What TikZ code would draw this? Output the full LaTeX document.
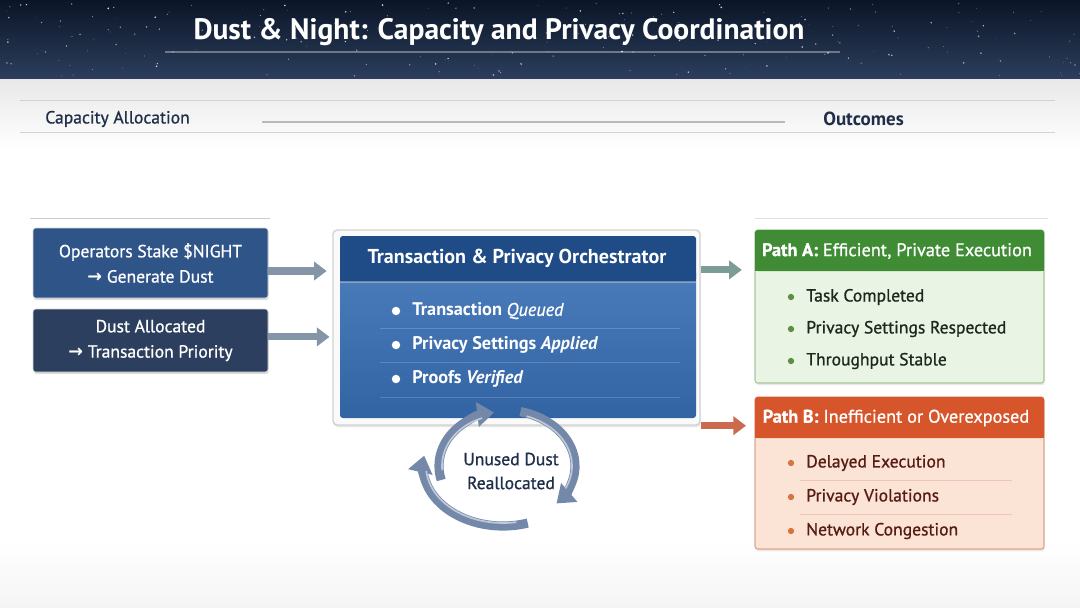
\documentclass[tikz,border=0pt]{standalone}
\usepackage{fontspec}
\setmainfont{PT Sans}
\newfontfamily\medf{PT Sans}[FakeBold=0.9]
\newfontfamily\symf{DejaVu Sans}
\usetikzlibrary{arrows.meta,calc,shadows}
\definecolor{navyTop}{HTML}{0B1527}
\definecolor{navyBot}{HTML}{2B3E5C}
\definecolor{boxA}{HTML}{2F5488}
\definecolor{boxB}{HTML}{2C3F5E}
\definecolor{orchHead}{HTML}{1F4B86}
\definecolor{orchTop}{HTML}{4A7BBA}
\definecolor{orchBot}{HTML}{3263A3}
\definecolor{greenHead}{HTML}{3F8C35}
\definecolor{greenBody}{HTML}{EAF4E4}
\definecolor{greenLine}{HTML}{A9C79D}
\definecolor{greenDot}{HTML}{5E8C45}
\definecolor{greenText}{HTML}{1C271D}
\definecolor{orangeHead}{HTML}{D6552A}
\definecolor{orangeBody}{HTML}{FBE3D5}
\definecolor{orangeLine}{HTML}{DDA68C}
\definecolor{orangeDot}{HTML}{D8733E}
\definecolor{orangeText}{HTML}{561B12}
\definecolor{labelText}{HTML}{1F2F4A}
\definecolor{flowGray}{HTML}{8595A8}
\definecolor{flowGreen}{HTML}{7E9C96}
\definecolor{flowOrange}{HTML}{CB6A4C}
\definecolor{cycleC}{HTML}{7489AA}
\newcommand{\rarr}{{\symf\bfseries →}}
\tikzset{
  leftbox/.style={rounded corners=2pt, draw=white!70!gray, line width=0.4pt, text=white,
    minimum width={235*0.025cm}, align=center, font=\medf\fontsize{12.5}{18}\selectfont,
    drop shadow={shadow xshift=0.5pt, shadow yshift=-1.5pt, opacity=0.25}},
  flow/.style={line width=5pt, -{Triangle[width=13pt,length=9pt]}},
  bulletdot/.style={circle, inner sep=0pt, minimum size=6pt},
  orchitem/.style={anchor=west, text=white, font=\bfseries\fontsize{13}{15}\selectfont, inner sep=0pt},
  pathitem/.style={anchor=west, font=\medf\fontsize{12.5}{15}\selectfont, inner sep=0pt},
  pathtitle/.style={text=white, font=\medf\fontsize{13}{15}\selectfont, inner sep=0pt},
  seclabel/.style={text=labelText, font=\medf\fontsize{12.5}{14}\selectfont, inner sep=0pt},
  cyc/.style={line width=6.5pt, draw=cycleC, -{Triangle[width=17pt,length=12pt]}},
  cychl/.style={line width=1.2pt, draw=white, opacity=0.55},
}
\begin{document}
\begin{tikzpicture}[x=0.025cm,y=-0.025cm]
\useasboundingbox (0,0) rectangle (1080,607);
% background
\fill[white] (0,0) rectangle (1080,607);
\shade[top color=gray!18, bottom color=white] (0,78) rectangle (1080,150);
\shade[top color=white, bottom color=gray!8] (0,540) rectangle (1080,607);
% header band
\shade[top color=navyTop, bottom color=navyBot] (0,0) rectangle (1080,78);
\pgfmathsetseed{42}
\foreach \i in {1,...,230}{
  \pgfmathsetmacro{\sx}{rnd*1080}
  \pgfmathsetmacro{\sy}{2+rnd*74}
  \pgfmathsetmacro{\sr}{0.15+rnd*0.55}
  \pgfmathsetmacro{\so}{0.25+rnd*0.7}
  \fill[white,opacity=\so] (\sx,\sy) circle (\sr pt);
}
\node[text=white, font=\bfseries\fontsize{21}{24}\selectfont, inner sep=0pt] (title) at (499,32)
  {Dust \& Night: Capacity and Privacy Coordination};
\draw[white, opacity=0.35, line width=0.8pt] (165,52) -- (840,52);
% section rules
\draw[gray!35, line width=0.7pt] (20,100) -- (1055,100);
\draw[gray!35, line width=0.7pt] (20,132) -- (1055,132);
\draw[gray!55, line width=1.2pt] (262,122) -- (785,122);
\node[seclabel, anchor=west] (capalloc) at (45,119) {Capacity Allocation};
\node[seclabel, anchor=west, font=\bfseries\fontsize{13.5}{14}\selectfont] (outcomes) at (823,119) {Outcomes};
\draw[gray!40, line width=0.6pt] (30,218) -- (270,218);
\draw[gray!25, line width=0.6pt] (755,218) -- (1048,218);
% left boxes
\node[leftbox, fill=boxA, minimum height={70*0.025cm}] (stake) at (150.5,263)
  {Operators Stake \$NIGHT\\\rarr\ Generate Dust};
\node[leftbox, fill=boxB, minimum height={63*0.025cm}] (alloc) at (150.5,340.5)
  {Dust Allocated\\\rarr\ Transaction Priority};
% orchestrator
\node[draw=gray!35, fill=gray!4, rounded corners=3pt, line width=1pt,
      minimum width={367*0.025cm}, minimum height={195*0.025cm},
      drop shadow={shadow xshift=0.5pt, shadow yshift=-1.5pt, opacity=0.2}] (orch) at (516.5,327.5) {};
\shade[top color=orchTop, bottom color=orchBot, rounded corners=2pt] (340,270) rectangle (696,418);
\fill[orchHead, rounded corners=2pt] (340,236) rectangle (696,282);
\fill[orchHead] (340,272) rectangle (696,282);
\draw[white, opacity=0.35, line width=0.8pt] (340,282) -- (696,282);
\node[text=white, font=\bfseries\fontsize{14.3}{16}\selectfont, inner sep=0pt] (orchtitle) at (517,258)
  {Transaction \& Privacy Orchestrator};
\foreach \yy in {328,362,397}{\draw[white, opacity=0.18, line width=0.6pt] (380,\yy) -- (680,\yy);}
\node[bulletdot, fill=white] (od1) at (396,311) {};
\node[bulletdot, fill=white] (od2) at (396,345) {};
\node[bulletdot, fill=white] (od3) at (396,379) {};
\node[orchitem] (oi1) at (412,311) {Transaction {\medf\mdseries\itshape Queued}};
\node[orchitem] (oi2) at (412,345) {Privacy Settings \itshape Applied};
\node[orchitem] (oi3) at (412,379) {Proofs \itshape Verified};
% path A
\node[draw=greenLine, fill=greenBody, rounded corners=2pt, line width=0.8pt,
      minimum width={289*0.025cm}, minimum height={153*0.025cm},
      drop shadow={shadow xshift=0.5pt, shadow yshift=-1.5pt, opacity=0.18}] (pathA) at (899.5,306.5) {};
\fill[greenHead, rounded corners=2pt] (755,230) rectangle (1044,271);
\fill[greenHead] (755,262) rectangle (1044,271);
\node[pathtitle] (pathAtitle) at (897,251) {\textbf{Path A:} Efficient, Private Execution};
\node[bulletdot, fill=greenDot, minimum size=4.5pt] (ad1) at (791,297) {};
\node[bulletdot, fill=greenDot, minimum size=4.5pt] (ad2) at (791,329) {};
\node[bulletdot, fill=greenDot, minimum size=4.5pt] (ad3) at (791,361) {};
\node[pathitem, text=greenText] (ai1) at (806,297) {Task Completed};
\node[pathitem, text=greenText] (ai2) at (806,329) {Privacy Settings Respected};
\node[pathitem, text=greenText] (ai3) at (806,361) {Throughput Stable};
% path B
\node[draw=orangeLine, fill=orangeBody, rounded corners=2pt, line width=0.8pt,
      minimum width={289*0.025cm}, minimum height={152*0.025cm},
      drop shadow={shadow xshift=0.5pt, shadow yshift=-1.5pt, opacity=0.18}] (pathB) at (899.5,473) {};
\fill[orangeHead, rounded corners=2pt] (755,397) rectangle (1044,438);
\fill[orangeHead] (755,429) rectangle (1044,438);
\node[pathtitle] (pathBtitle) at (896,418) {\textbf{Path B:} Inefficient or Overexposed};
\foreach \yy in {480,514}{\draw[orangeLine, opacity=0.45, line width=0.6pt] (800,\yy) -- (1012,\yy);}
\node[bulletdot, fill=orangeDot, minimum size=4.5pt] (bd1) at (791,463) {};
\node[bulletdot, fill=orangeDot, minimum size=4.5pt] (bd2) at (791,497) {};
\node[bulletdot, fill=orangeDot, minimum size=4.5pt] (bd3) at (791,531) {};
\node[pathitem, text=orangeText] (bi1) at (806,463) {Delayed Execution};
\node[pathitem, text=orangeText] (bi2) at (806,497) {Privacy Violations};
\node[pathitem, text=orangeText] (bi3) at (806,531) {Network Congestion};
% connectors
\draw[flow, draw=flowGray, shorten >=4pt] ([yshift=-0.2cm]stake.east) -- ([yshift=-0.2cm]stake.east -| orch.west);
\draw[flow, draw=flowGray, shorten >=2pt] ([yshift=0.09cm]alloc.east) -- ([yshift=0.09cm]alloc.east -| orch.west);
\draw[flow, draw=flowGreen, shorten >=9pt] ([yshift=1.44cm]orch.east) -- ([yshift=1.44cm]orch.east -| pathA.west);
\draw[flow, draw=flowOrange, shorten >=6pt] (orch.south east) -- (orch.south east -| pathB.west);
% cycle
\node[text=labelText, align=center, font=\medf\fontsize{12.5}{17}\selectfont, inner sep=0pt] (cycle) at (511,471)
  {Unused Dust\\Reallocated};
\draw[cyc] (503,466) ++(165:64 and 54) arc[start angle=165, end angle=262, x radius=64, y radius=54];
\draw[cyc] (503,466) ++(284:72 and 56) arc[start angle=284, end angle=402, x radius=72, y radius=56];
\draw[cyc] (503,466) ++(72:80 and 60) arc[start angle=72, end angle=190, x radius=80, y radius=60];
\draw[cychl] (503,466) ++(175:61 and 51) arc[start angle=175, end angle=250, x radius=61, y radius=51];
\draw[cychl] (503,466) ++(290:69 and 53) arc[start angle=290, end angle=385, x radius=69, y radius=53];
\draw[cychl] (503,466) ++(80:77 and 57) arc[start angle=80, end angle=175, x radius=77, y radius=57];
\end{tikzpicture}
\end{document}
